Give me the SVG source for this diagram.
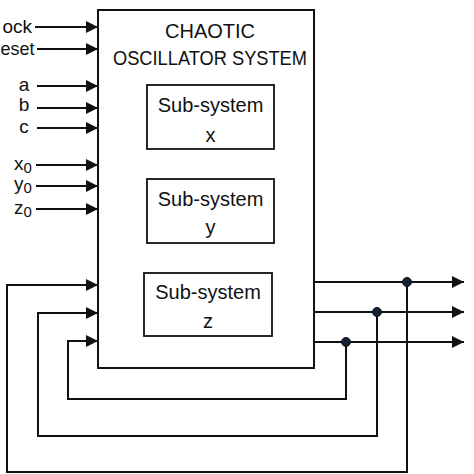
<svg xmlns="http://www.w3.org/2000/svg" width="474" height="474" viewBox="0 0 474 474">
<defs>
<style>
.box{fill:#fff;stroke:#111;stroke-width:2}
.sub{fill:#fff;stroke:#111;stroke-width:1.8}
.ln{fill:none;stroke:#111;stroke-width:2}
.t{font-family:"Liberation Sans",Arial,sans-serif;font-size:20px;fill:#111}
.lbl{font-family:"Liberation Sans",Arial,sans-serif;font-size:19px;fill:#111}
.dot{fill:#142033;stroke:#111;stroke-width:1}
</style>
<marker id="ah" markerUnits="userSpaceOnUse" markerWidth="13" markerHeight="13" refX="12" refY="6" orient="auto">
<path d="M0,0 L12,6 L0,12 z" fill="#111"/>
</marker>
</defs>
<rect width="474" height="474" fill="#fff"/>
<g id="main">
<rect class="box" x="98" y="10" width="216" height="358"/>
<text class="t" x="210" y="38" text-anchor="middle">CHAOTIC</text>
<text class="t" x="210" y="65" text-anchor="middle" textLength="194" lengthAdjust="spacingAndGlyphs">OSCILLATOR SYSTEM</text>
</g>
<g id="subx">
<rect class="sub" x="147" y="85" width="127" height="64"/>
<text class="t" x="210.5" y="112" text-anchor="middle">Sub-system</text>
<text class="t" x="210.5" y="142" text-anchor="middle">x</text>
</g>
<g id="suby">
<rect class="sub" x="147" y="179" width="127" height="64"/>
<text class="t" x="210.5" y="206" text-anchor="middle">Sub-system</text>
<text class="t" x="210.5" y="234" text-anchor="middle">y</text>
</g>
<g id="subz">
<rect class="sub" x="144" y="273" width="128" height="63"/>
<text class="t" x="208" y="299" text-anchor="middle">Sub-system</text>
<text class="t" x="208" y="328" text-anchor="middle">z</text>
</g>
<g id="inputs">
<text class="lbl" x="32" y="33" text-anchor="end">ock</text>
<text class="lbl" x="34.5" y="55" text-anchor="end" textLength="34" lengthAdjust="spacingAndGlyphs">eset</text>
<text class="lbl" x="24" y="91" text-anchor="middle">a</text>
<text class="lbl" x="24" y="111" text-anchor="middle">b</text>
<text class="lbl" x="24" y="133" text-anchor="middle">c</text>
<text class="lbl" x="14" y="170">x<tspan font-size="15" dy="3">0</tspan></text>
<text class="lbl" x="14" y="190">y<tspan font-size="15" dy="3">0</tspan></text>
<text class="lbl" x="14" y="214">z<tspan font-size="15" dy="3">0</tspan></text>
</g>
<g id="connectors">
<line class="ln" x1="35" y1="27" x2="98" y2="27" marker-end="url(#ah)"/>
<line class="ln" x1="37" y1="49" x2="98" y2="49" marker-end="url(#ah)"/>
<line class="ln" x1="37" y1="86" x2="98" y2="86" marker-end="url(#ah)"/>
<line class="ln" x1="37" y1="108" x2="98" y2="108" marker-end="url(#ah)"/>
<line class="ln" x1="37" y1="128" x2="98" y2="128" marker-end="url(#ah)"/>
<line class="ln" x1="36" y1="165" x2="98" y2="165" marker-end="url(#ah)"/>
<line class="ln" x1="36" y1="186" x2="98" y2="186" marker-end="url(#ah)"/>
<line class="ln" x1="36" y1="209" x2="98" y2="209" marker-end="url(#ah)"/>
<line class="ln" x1="315" y1="282" x2="464" y2="282" marker-end="url(#ah)"/>
<line class="ln" x1="315" y1="312" x2="464" y2="312" marker-end="url(#ah)"/>
<line class="ln" x1="315" y1="342" x2="464" y2="342" marker-end="url(#ah)"/>
<polyline class="ln" points="407,282 407,472 7,472 7,285 98,285" marker-end="url(#ah)"/>
<polyline class="ln" points="377,312 377,436 38,436 38,313 98,313" marker-end="url(#ah)"/>
<polyline class="ln" points="346,342 346,399 68,399 68,341 98,341" marker-end="url(#ah)"/>
<circle class="dot" cx="407" cy="282" r="4.5"/>
<circle class="dot" cx="377" cy="312" r="4.5"/>
<circle class="dot" cx="346" cy="342" r="4.5"/>
</g>
</svg>
